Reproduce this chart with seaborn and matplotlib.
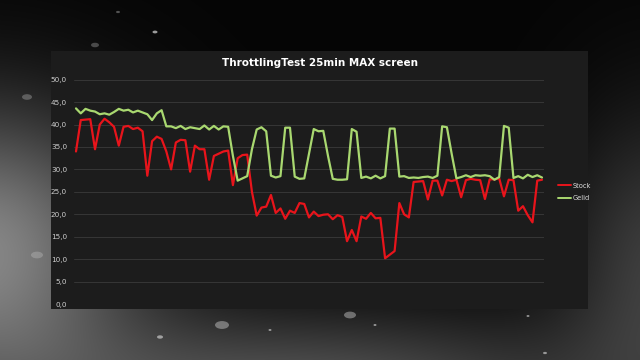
import numpy as np
import pandas as pd
import matplotlib
matplotlib.use("Agg")
import matplotlib.pyplot as plt
from matplotlib.patches import Rectangle, Circle
import seaborn as sns

title = "ThrottlingTest 25min MAX screen"
series_names = ["Stock", "Gelid"]
stock = [34.0, 41.0, 41.1, 41.2, 34.5, 40.0, 41.3, 40.5, 39.5, 35.3,
         39.5, 39.7, 39.0, 39.3, 38.5, 28.6, 36.3, 37.3, 36.8, 34.0,
         30.0, 36.0, 36.6, 36.5, 29.5, 35.3, 34.5, 34.5, 27.7, 33.0,
         33.5, 34.0, 34.2, 26.5, 32.5, 33.2, 33.3, 25.0, 19.7, 21.5,
         21.7, 24.3, 20.3, 21.3, 19.0, 20.8, 20.3, 22.5, 22.3, 19.3,
         20.6, 19.6, 19.9, 20.0, 18.9, 19.8, 19.4, 14.0, 16.5, 14.0,
         19.5, 19.0, 20.3, 19.1, 19.2, 10.2, 11.0, 11.8, 22.5, 20.0,
         19.3, 27.2, 27.3, 27.4, 23.3, 27.5, 27.5, 24.2, 27.7, 27.4,
         27.7, 23.8, 27.6, 27.9, 27.7, 27.6, 23.4, 27.8, 27.8, 28.0,
         24.0, 27.7, 27.6, 20.8, 21.8, 19.8, 18.2, 27.5, 27.7]
gelid = [43.6, 42.5, 43.5, 43.1, 42.9, 42.3, 42.5, 42.2, 42.8, 43.5,
         43.1, 43.3, 42.7, 43.1, 42.7, 42.3, 41.0, 42.5, 43.2, 39.6,
         39.6, 39.2, 39.7, 39.0, 39.4, 39.2, 39.0, 39.8, 38.9, 39.7,
         38.9, 39.6, 39.5, 33.0, 27.5, 28.0, 28.5, 34.5, 38.9, 39.4,
         38.5, 28.6, 28.2, 28.5, 39.3, 39.3, 28.4, 27.9, 28.0, 33.5,
         39.0, 38.5, 38.6, 33.0, 27.9, 27.7, 27.7, 27.8, 39.0, 38.4,
         28.1, 28.4, 28.0, 28.6, 28.0, 28.5, 39.1, 39.1, 28.4, 28.5,
         28.1, 28.2, 28.1, 28.3, 28.4, 28.1, 28.6, 39.6, 39.4, 33.5,
         28.0, 28.3, 28.7, 28.3, 28.7, 28.6, 28.7, 28.5, 27.7, 28.3,
         39.7, 39.3, 28.1, 28.5, 28.0, 28.8, 28.3, 28.7, 28.2]
y_ticks = [0, 5, 10, 15, 20, 25, 30, 35, 40, 45, 50]
y_tick_labels = ["0,0", "5,0", "10,0", "15,0", "20,0", "25,0", "30,0",
                 "35,0", "40,0", "45,0", "50,0"]

df = pd.DataFrame({
    "t": list(range(len(stock))) * 2,
    "value": stock + gelid,
    "series": [series_names[0]] * len(stock) + [series_names[1]] * len(gelid),
})

sns.set_theme(style="dark")
plt.rcParams["font.family"] = ["DejaVu Sans"]

W, H = 640, 360
fig = plt.figure(figsize=(6.4, 3.6), dpi=100)
fig.patch.set_facecolor("#050505")

# decorative background glow
yy, xx = np.mgrid[0:H, 0:W].astype(float)
g = (0.02
     + 0.50 * np.exp(-((xx + 20) ** 2 / (2 * 110 ** 2) + (yy - 250) ** 2 / (2 * 100 ** 2)))
     + 0.30 * np.exp(-((xx - 300) ** 2 / (2 * 220 ** 2) + (yy - 390) ** 2 / (2 * 55 ** 2)))
     + 0.22 * np.exp(-((xx - 660) ** 2 / (2 * 70 ** 2) + (yy - 270) ** 2 / (2 * 110 ** 2))))
g = np.clip(g, 0, 1)
img = np.dstack([g, g, g])
fig.figimage(img, xo=0, yo=0, origin="upper", zorder=0)

for (cx, cy, r, a) in [(95, 45, 4, 0.25), (118, 12, 2, 0.3), (155, 32, 2.5, 0.6),
                       (27, 97, 5, 0.25), (37, 255, 6, 0.2), (222, 325, 7, 0.35),
                       (160, 337, 3, 0.5), (350, 315, 6, 0.35), (270, 330, 1.5, 0.6),
                       (375, 325, 1.5, 0.6), (528, 316, 1.5, 0.6), (545, 353, 2, 0.5)]:
    fig.patches.append(Circle((cx / W, 1 - cy / H), r / W, transform=fig.transFigure,
                              facecolor="white", alpha=a, edgecolor="none", zorder=1))

# chart panel
fig.patches.append(Rectangle((51 / W, 1 - 309 / H), (588 - 51) / W, (309 - 51) / H,
                             transform=fig.transFigure, facecolor="#1c1c1c",
                             edgecolor="none", zorder=2))

ax = fig.add_axes([74 / W, 56 / H, 470 / W, 224.3 / H])
ax.set_zorder(3)
ax.set_facecolor("none")

sns.lineplot(data=df, x="t", y="value", hue="series",
             palette={"Stock": "#e8141b", "Gelid": "#a9d870"},
             linewidth=1.6, ax=ax, legend=True)

ax.set_xlim(-0.42, 98.42)
ax.set_ylim(0, 50)
ax.set_yticks(y_ticks)
ax.set_yticklabels(y_tick_labels)
ax.set_xticks([])
ax.set_xlabel("")
ax.set_ylabel("")
ax.grid(axis="y", color="#363636", linewidth=0.7)
ax.grid(axis="x", visible=False)
for s in ax.spines.values():
    s.set_visible(False)
ax.tick_params(axis="y", colors="#cfcfcf", labelsize=5.2, length=0, pad=5)

handles, labels = ax.get_legend_handles_labels()
leg = ax.legend(handles, labels, loc="center left",
                bbox_to_anchor=(552 / W, 1 - 192 / H), bbox_transform=fig.transFigure,
                frameon=False, fontsize=4.8, labelcolor="#dddddd",
                handlelength=2.0, handletextpad=0.2, labelspacing=1.0)
for h in leg.get_lines():
    h.set_linewidth(1.4)

fig.text(320 / W, 1 - 63 / H, title, ha="center", va="center",
         color="white", fontsize=7.5, fontweight="bold")

fig.savefig("out.png", dpi=100, facecolor=fig.get_facecolor())
